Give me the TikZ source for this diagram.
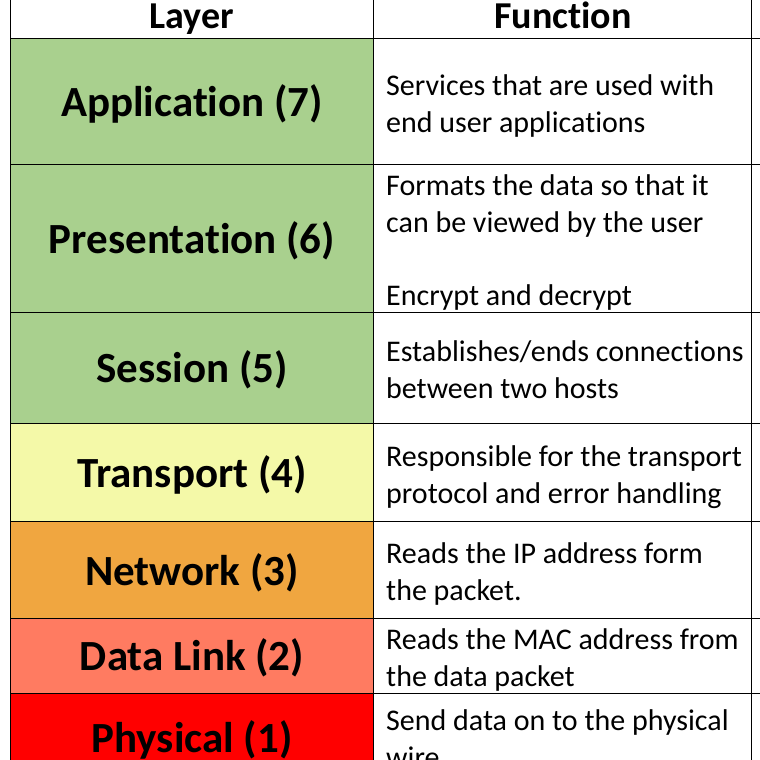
\documentclass[tikz,border=0pt]{standalone}
\usepackage{fontspec}
\setmainfont{Carlito}[Ligatures={NoCommon}]
\begin{document}
\begin{tikzpicture}[x=1pt,y=-1pt,
  lay/.style={font=\fontsize{43}{50}\selectfont\bfseries, anchor=base},
  hd/.style={font=\fontsize{38}{46}\selectfont\bfseries, anchor=base},
  fn/.style={font=\fontsize{30}{37}\selectfont, anchor=base west, inner sep=0},
  grid/.style={draw=black, line width=0.9pt}]
\useasboundingbox (0,0) rectangle (760,760);
\clip (0,0) rectangle (760,760);
\fill[white] (0,0) rectangle (760,760);
\fill[fill={rgb,255:red,169;green,208;blue,142}] (10,38) rectangle (373,423);
\fill[fill={rgb,255:red,244;green,249;blue,168}] (10,423) rectangle (373,521);
\fill[fill={rgb,255:red,240;green,166;blue,64}] (10,521) rectangle (373,618);
\fill[fill={rgb,255:red,255;green,123;blue,97}] (10,618) rectangle (373,693);
\fill[fill={rgb,255:red,255;green,0;blue,0}] (10,693) rectangle (373,770);
\foreach \x in {10,373,751} \draw[grid] (\x,-5) -- (\x,770);
\foreach \y in {38,164,312,423,521,618,693} \draw[grid] (10,\y) -- (770,\y);
\node[hd] (h1) at (192,29) {Layer};
\node[hd] (h2) at (563,29) {Function};
\node[lay] (l7) at (192,116) {Application (7)};
\node[lay] (l6) at (192,253) {Presentation (6)};
\node[lay] (l5) at (192,382) {Session (5)};
\node[lay] (l4) at (192,487) {Transport (4)};
\node[lay] (l3) at (192,585) {Network (3)};
\node[lay] (l2) at (192,670) {Data Link (2)};
\node[lay] (l1) at (192,752) {Physical (1)};
\node[fn] (f7a) at (386,95) {Services that are used with};
\node[fn] (f7b) at (386,132) {end user applications};
\node[fn] (f6a) at (386,195) {Formats the data so that it};
\node[fn] (f6b) at (386,232) {can be viewed by the user};
\node[fn] (f6c) at (386,305) {Encrypt and decrypt};
\node[fn] (f5a) at (386,361) {Establishes/ends connections};
\node[fn] (f5b) at (386,398) {between two hosts};
\node[fn] (f4a) at (386,466) {Responsible for the transport};
\node[fn] (f4b) at (386,503) {protocol and error handling};
\node[fn] (f3a) at (386,563) {Reads the IP address form};
\node[fn] (f3b) at (386,600) {the packet.};
\node[fn] (f2a) at (386,649) {Reads the MAC address from};
\node[fn] (f2b) at (386,686) {the data packet};
\node[fn] (f1a) at (386,730) {Send data on to the physical};
\node[fn] (f1b) at (386,767) {wire};
\end{tikzpicture}
\end{document}
